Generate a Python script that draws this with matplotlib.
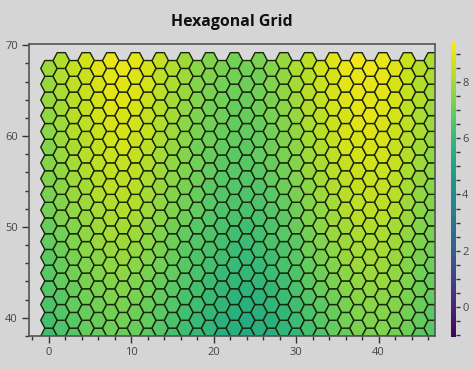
import numpy as np
import matplotlib
matplotlib.use("Agg")
import matplotlib.pyplot as plt
from matplotlib.collections import PolyCollection
from matplotlib.ticker import MultipleLocator

# one list per hex column (x = 0, 1.5, 3 ...), values from bottom row to top row
cell_values = [
    [6.2, 6.3, 6.5, 6.6, 6.7, 6.8, 6.9, 7.0, 7.2, 7.3, 7.4, 7.5, 7.5, 7.6, 7.7, 7.8, 7.8, 7.9],
    [6.5, 6.6, 6.7, 6.9, 7.0, 7.1, 7.2, 7.4, 7.5, 7.6, 7.7, 7.8, 7.9, 7.9, 8.0, 8.1, 8.2, 8.2],
    [6.6, 6.7, 6.9, 7.0, 7.2, 7.3, 7.4, 7.5, 7.7, 7.8, 7.9, 8.0, 8.1, 8.2, 8.3, 8.3, 8.4, 8.5],
    [6.9, 7.0, 7.2, 7.3, 7.4, 7.6, 7.7, 7.8, 7.9, 8.0, 8.2, 8.3, 8.3, 8.4, 8.5, 8.6, 8.6, 8.7],
    [6.9, 7.0, 7.2, 7.3, 7.5, 7.6, 7.8, 7.9, 8.0, 8.2, 8.3, 8.4, 8.5, 8.6, 8.7, 8.7, 8.8, 8.9],
    [7.1, 7.2, 7.4, 7.5, 7.7, 7.8, 8.0, 8.1, 8.2, 8.4, 8.5, 8.6, 8.7, 8.8, 8.9, 9.0, 9.0, 9.1],
    [7.0, 7.2, 7.3, 7.5, 7.6, 7.8, 7.9, 8.0, 8.2, 8.3, 8.4, 8.5, 8.7, 8.8, 8.8, 8.9, 9.0, 9.1],
    [7.0, 7.1, 7.3, 7.4, 7.6, 7.7, 7.9, 8.0, 8.2, 8.3, 8.4, 8.5, 8.6, 8.7, 8.8, 8.9, 8.9, 9.0],
    [6.7, 6.9, 7.0, 7.2, 7.3, 7.5, 7.6, 7.7, 7.9, 8.0, 8.1, 8.2, 8.4, 8.5, 8.5, 8.6, 8.7, 8.8],
    [6.6, 6.7, 6.9, 7.0, 7.2, 7.3, 7.4, 7.6, 7.7, 7.8, 7.9, 8.0, 8.1, 8.2, 8.3, 8.4, 8.4, 8.5],
    [6.3, 6.4, 6.6, 6.7, 6.9, 7.0, 7.1, 7.2, 7.4, 7.5, 7.6, 7.7, 7.8, 7.9, 8.0, 8.0, 8.1, 8.2],
    [6.2, 6.3, 6.4, 6.6, 6.7, 6.8, 6.9, 7.1, 7.2, 7.3, 7.4, 7.5, 7.6, 7.6, 7.7, 7.8, 7.9, 7.9],
    [5.9, 6.0, 6.2, 6.3, 6.4, 6.5, 6.6, 6.7, 6.9, 7.0, 7.1, 7.2, 7.2, 7.3, 7.4, 7.5, 7.5, 7.6],
    [5.8, 5.9, 6.0, 6.1, 6.3, 6.4, 6.5, 6.6, 6.7, 6.8, 6.9, 7.0, 7.1, 7.2, 7.2, 7.3, 7.4, 7.4],
    [5.5, 5.6, 5.8, 5.9, 6.0, 6.2, 6.3, 6.4, 6.5, 6.6, 6.7, 6.8, 6.9, 7.0, 7.1, 7.2, 7.2, 7.3],
    [5.5, 5.6, 5.7, 5.9, 6.0, 6.1, 6.2, 6.4, 6.5, 6.6, 6.7, 6.8, 6.9, 6.9, 7.0, 7.1, 7.2, 7.2],
    [5.3, 5.4, 5.6, 5.7, 5.9, 6.0, 6.1, 6.2, 6.4, 6.5, 6.6, 6.7, 6.8, 6.9, 7.0, 7.0, 7.1, 7.2],
    [5.5, 5.6, 5.7, 5.9, 6.0, 6.2, 6.3, 6.4, 6.5, 6.6, 6.7, 6.9, 6.9, 7.0, 7.1, 7.2, 7.2, 7.3],
    [5.5, 5.6, 5.8, 5.9, 6.1, 6.2, 6.4, 6.5, 6.6, 6.7, 6.9, 7.0, 7.1, 7.2, 7.3, 7.3, 7.4, 7.5],
    [5.8, 5.9, 6.1, 6.2, 6.4, 6.5, 6.7, 6.8, 6.9, 7.1, 7.2, 7.3, 7.4, 7.5, 7.6, 7.7, 7.7, 7.8],
    [5.9, 6.1, 6.2, 6.4, 6.5, 6.7, 6.8, 7.0, 7.1, 7.3, 7.4, 7.5, 7.6, 7.7, 7.8, 7.9, 8.0, 8.1],
    [6.3, 6.4, 6.6, 6.8, 6.9, 7.1, 7.2, 7.4, 7.5, 7.6, 7.8, 7.9, 8.0, 8.1, 8.2, 8.3, 8.3, 8.4],
    [6.5, 6.7, 6.8, 7.0, 7.1, 7.3, 7.4, 7.6, 7.7, 7.9, 8.0, 8.1, 8.2, 8.3, 8.4, 8.5, 8.6, 8.7],
    [6.9, 7.0, 7.2, 7.3, 7.5, 7.6, 7.8, 7.9, 8.0, 8.2, 8.3, 8.4, 8.5, 8.6, 8.7, 8.8, 8.8, 8.9],
    [7.0, 7.2, 7.3, 7.5, 7.6, 7.8, 7.9, 8.0, 8.2, 8.3, 8.4, 8.5, 8.7, 8.8, 8.8, 8.9, 9.0, 9.1],
    [7.3, 7.4, 7.6, 7.7, 7.9, 8.0, 8.1, 8.3, 8.4, 8.5, 8.6, 8.7, 8.8, 8.9, 9.0, 9.1, 9.1, 9.2],
    [7.3, 7.4, 7.6, 7.7, 7.9, 8.0, 8.1, 8.2, 8.4, 8.5, 8.6, 8.7, 8.8, 8.9, 9.0, 9.0, 9.1, 9.2],
    [7.4, 7.5, 7.6, 7.8, 7.9, 8.0, 8.1, 8.3, 8.4, 8.5, 8.6, 8.7, 8.8, 8.8, 8.9, 9.0, 9.1, 9.1],
    [7.2, 7.3, 7.5, 7.6, 7.7, 7.8, 7.9, 8.0, 8.2, 8.3, 8.4, 8.5, 8.5, 8.6, 8.7, 8.8, 8.8, 8.9],
    [7.1, 7.2, 7.3, 7.4, 7.5, 7.6, 7.7, 7.8, 7.9, 8.0, 8.1, 8.2, 8.3, 8.4, 8.4, 8.5, 8.6, 8.6],
    [6.8, 6.9, 7.0, 7.1, 7.2, 7.3, 7.4, 7.5, 7.6, 7.7, 7.8, 7.9, 8.0, 8.1, 8.1, 8.2, 8.2, 8.3],
    [6.7, 6.8, 6.9, 7.0, 7.1, 7.2, 7.3, 7.4, 7.5, 7.6, 7.7, 7.7, 7.8, 7.9, 7.9, 8.0, 8.1, 8.1],
]
x_start = 0.0
y_start = 38.0
color_min = -1.07
color_max = 9.43

title = "Hexagonal Grid"

plt.rcParams['font.family'] = ['Open Sans', 'DejaVu Sans']

bg = '#d5d5d5'
fig = plt.figure(figsize=(4.74, 3.69), dpi=100, facecolor=bg)
ax = fig.add_axes([0.0612, 0.0894, 0.8555, 0.7906])
ax.set_facecolor('#d8d8d8')

# flat-top hexagons, radius 1
r = 1.0
ang = np.radians(np.arange(6) * 60)
polys = []
vals = []
for i, col in enumerate(cell_values):
    cx = x_start + 1.5 * r * i
    for j, v in enumerate(col):
        cy = y_start + np.sqrt(3) * r * (j + 0.5 * (i % 2))
        polys.append(np.column_stack([cx + r * np.cos(ang), cy + r * np.sin(ang)]))
        vals.append(v)

pc = PolyCollection(polys, array=np.array(vals), cmap='viridis',
                    edgecolors='#1a260a', linewidths=1.0)
pc.set_clim(color_min, color_max)
ax.add_collection(pc)

ax.set_xlim(-2.42, 46.78)
ax.set_ylim(38.0, 70.1)

for s in ax.spines.values():
    s.set_color('#555555')
    s.set_linewidth(1.2)

ax.xaxis.set_major_locator(MultipleLocator(10))
ax.xaxis.set_minor_locator(MultipleLocator(2))
ax.yaxis.set_major_locator(MultipleLocator(10))
ax.yaxis.set_minor_locator(MultipleLocator(2))
ax.tick_params(which='major', length=5, width=1, color='#333333',
               labelsize=8, labelcolor='#444444', pad=3)
ax.tick_params(which='minor', length=3, width=1, color='#333333')

ax.set_title(title, fontsize=11.4, fontweight='bold', color='#111111', pad=13)

cax = fig.add_axes([0.9515, 0.0867, 0.0105, 0.8])
cb = fig.colorbar(pc, cax=cax)
cb.outline.set_visible(False)
cb.set_ticks([0, 2, 4, 6, 8])
cb.ax.yaxis.set_minor_locator(MultipleLocator(0.5))
cb.ax.tick_params(which='major', length=3, width=1, color='#333333',
                  labelsize=8, labelcolor='#444444', pad=1.5)
cb.ax.tick_params(which='minor', length=3, width=1, color='#333333')

fig.savefig('out.png', dpi=100, facecolor=bg)
